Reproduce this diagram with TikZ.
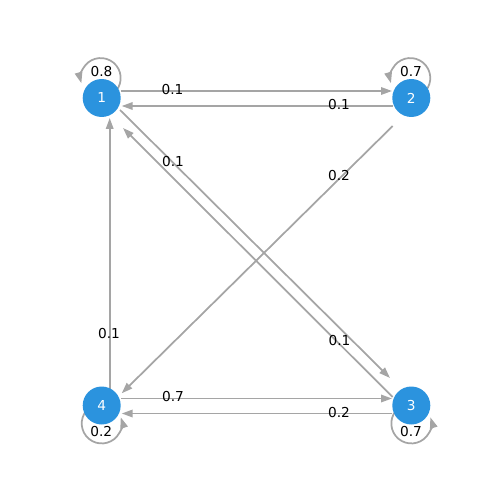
\documentclass[tikz,border=0pt]{standalone}
\usepackage{fontspec}
\setmainfont{DejaVu Sans}
\usetikzlibrary{arrows.meta}
\definecolor{nodeblue}{RGB}{43,147,222}
\definecolor{edgegray}{RGB}{165,165,165}
\pgfdeclarelayer{bg}
\pgfsetlayers{bg,main}
\begin{document}
\begin{tikzpicture}[x=0.02cm,y=-0.02cm,
  vertex/.style={circle,fill=nodeblue,minimum size=0.76cm,inner sep=0pt,text=white,font=\fontsize{7.8}{9}\selectfont},
  edge/.style={draw=edgegray,line width=0.035cm,-{Triangle[length=0.22cm,width=0.15cm]}},
  wlabel/.style={font=\fontsize{7.8}{9}\selectfont,inner sep=0pt,text=black}]
\useasboundingbox (0,0) rectangle (500,500);
% vertices
\node[vertex] (n1) at (101.7,98) {1};
\node[vertex] (n2) at (411.3,98) {2};
\node[vertex] (n3) at (411.3,405.5) {3};
\node[vertex] (n4) at (101.7,405.5) {4};
\begin{pgfonlayer}{bg}
% straight edges
\draw[edge] ([shift={(19,-7)}]n1.center) -- ([shift={(-19.3,-7)}]n2.center);
\draw[edge] ([shift={(-18.8,8)}]n2.center) -- ([shift={(20,8)}]n1.center);
\draw[edge] ([shift={(19.3,-7)}]n4.center) -- ([shift={(-19.3,-7)}]n3.center);
\draw[edge] ([shift={(-19,8)}]n3.center) -- ([shift={(20,8)}]n4.center);
\draw[edge] ([shift={(8,-17)}]n4.center) -- ([shift={(8,20)}]n1.center);
\draw[edge] ([shift={(18.3,12)}]n1.center) -- ([shift={(-21.3,-27.5)}]n3.center);
\draw[edge] ([shift={(-18.7,-8.5)}]n3.center) -- ([shift={(21.3,30)}]n1.center);
\draw[edge] ([shift={(-18.6,28)}]n2.center) -- ([shift={(20,-12.2)}]n4.center);
% self loops
\draw[edge] ([shift={(14.3,-7.1)}]n1.center) arc[start angle=40,end angle=-195,radius=20];
\draw[edge] ([shift={(14.3,-7.1)}]n2.center) arc[start angle=40,end angle=-195,radius=20];
\draw[edge] ([shift={(-15.3,5.1)}]n4.center) arc[start angle=220,end angle=-18,radius=20];
\draw[edge] ([shift={(-15.3,5.1)}]n3.center) arc[start angle=220,end angle=-18,radius=20];
\end{pgfonlayer}
% labels
\node[wlabel] (l11) at (101.5,72) {0.8};
\node[wlabel] (l22) at (411,72) {0.7};
\node[wlabel] (l33) at (411,432) {0.7};
\node[wlabel] (l44) at (101.3,432) {0.2};
\node[wlabel] (l12) at (172.5,90) {0.1};
\node[wlabel] (l21) at (339,104.5) {0.1};
\node[wlabel] (l43) at (173,397) {0.7};
\node[wlabel] (l34) at (339,413) {0.2};
\node[wlabel] (l31) at (173,162) {0.1};
\node[wlabel] (l13) at (339.5,341) {0.1};
\node[wlabel] (l24) at (339,176) {0.2};
\node[wlabel] (l41) at (109,334) {0.1};
\end{tikzpicture}
\end{document}
